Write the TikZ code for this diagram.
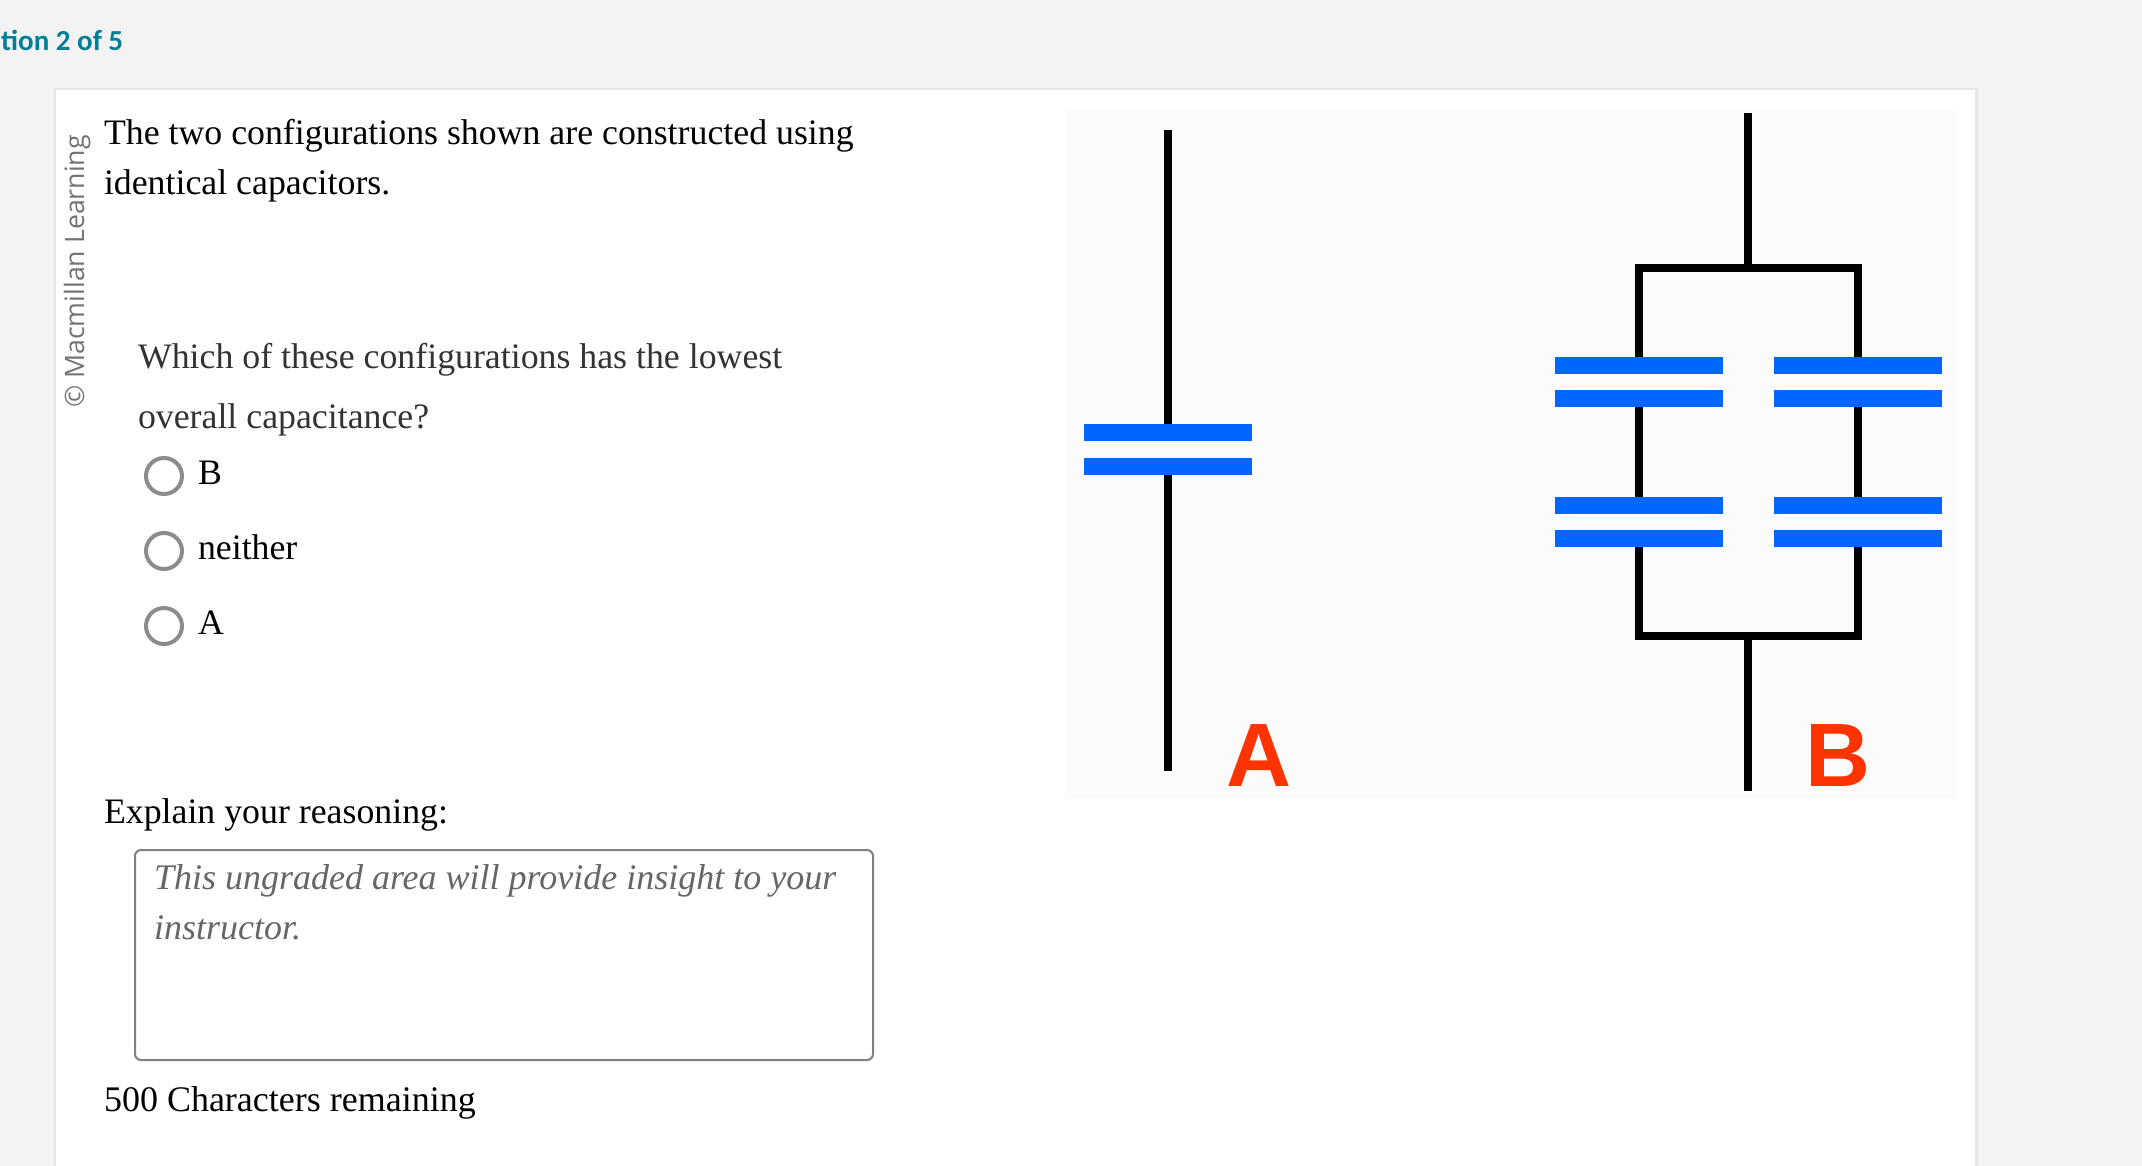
\documentclass[tikz,border=0pt]{standalone}
\usepackage{fontspec}
\setmainfont{Liberation Serif}
\newfontfamily\uifont{Carlito}
\newfontfamily\wmfont{Open Sans}
\newfontfamily\labfont{Liberation Sans}
\definecolor{pagebg}{HTML}{F3F3F3}
\definecolor{cardedge}{HTML}{E6E6E6}
\definecolor{panelbg}{HTML}{FBFBFB}
\definecolor{capblue}{HTML}{0066FF}
\definecolor{labred}{HTML}{FF3300}
\definecolor{teal}{HTML}{007F97}
\tikzset{
  x=1pt,y=-1pt,
  body/.style={anchor=base west,inner sep=0pt,outer sep=0pt,font=\fontsize{35.8}{36}\selectfont},
  plate/.style={draw=none,fill=capblue,minimum width=168pt,minimum height=17.5pt,inner sep=0pt,outer sep=0pt},
  wire/.style={draw=black,line width=7.5pt},
  busbar/.style={draw=black,line width=8pt,line cap=butt,line join=miter},
  radio/.style={circle,draw=black!45,line width=4pt,minimum size=36pt,inner sep=0pt,fill=white},
  capletter/.style={anchor=base,inner sep=0pt,text=labred,font=\labfont\bfseries\fontsize{90}{90}\selectfont},
}
\begin{document}
\begin{tikzpicture}
\useasboundingbox (0,0) rectangle (2142,1166);
\fill[pagebg] (0,0) rectangle (2142,1166);
\fill[cardedge] (54,88) rectangle (1978,1166);
\fill[white] (56,90) rectangle (1975,1166);
\fill[panelbg] (1065,110) rectangle (1956,799);

\node[anchor=base west,inner sep=0pt,text=teal,font=\uifont\bfseries\fontsize{29}{29}\selectfont] (qnum) at (1,51) {tion 2 of 5};
\node[anchor=base west,rotate=90,inner sep=0pt,text=black!55,font=\wmfont\fontsize{26.7}{26.7}\selectfont] (wm) at (84,408) {© Macmillan Learning};

\node[body] (t1) at (104,145) {The two configurations shown are constructed using};
\node[body] (t2) at (104,195) {identical capacitors.};
\node[body,text=black!80] (q1) at (138,368) {Which of these configurations has the lowest};
\node[body,text=black!80] (q2) at (138,428) {overall capacitance?};

\node[radio] (r1) at (164,476) {};
\node[radio] (r2) at (164,551) {};
\node[radio] (r3) at (164,626) {};
\node[body] (o1) at (198,484) {B};
\node[body] (o2) at (198,559) {neither};
\node[body] (o3) at (198,634) {A};

\node[body] (ex) at (104,823) {Explain your reasoning:};
\node[draw=black!50,line width=2pt,rounded corners=6pt,minimum width=738pt,minimum height=210pt,inner sep=0pt,outer sep=0pt,anchor=north west] (box) at (135,850) {};
\node[body,text=black!60,font=\itshape\fontsize{36}{36}\selectfont] (ph1) at (154,889) {This ungraded area will provide insight to your};
\node[body,text=black!60,font=\itshape\fontsize{36}{36}\selectfont] (ph2) at (154,939) {instructor.};
\node[body,font=\fontsize{36}{36}\selectfont] (rem) at (104,1111) {500 Characters remaining};

% circuit A
\coordinate (atop) at (1168,130);
\coordinate (abot) at (1168,771);
\node[plate] (a1) at (1168,432.5) {};
\node[plate] (a2) at (1168,466.5) {};
\draw[wire] (atop) -- (a1.north);
\draw[wire] (a2.south) -- (abot);

% circuit B
\coordinate (btop) at (1748,113);
\coordinate (bbot) at (1748,791);
\coordinate (tl) at (1639,268);
\coordinate (tr) at (1858,268);
\coordinate (bl) at (1639,636);
\coordinate (br) at (1858,636);
\coordinate (tm) at (1748,268);
\coordinate (bm) at (1748,636);
\node[plate] (l1) at (1639,365.5) {};
\node[plate] (l2) at (1639,398.5) {};
\node[plate] (l3) at (1639,505.5) {};
\node[plate] (l4) at (1639,538.5) {};
\node[plate] (r1p) at (1858,365.5) {};
\node[plate] (r2p) at (1858,398.5) {};
\node[plate] (r3p) at (1858,505.5) {};
\node[plate] (r4p) at (1858,538.5) {};
\draw[wire] (btop) -- (tm);
\draw[wire] (bm) -- (bbot);
\draw[busbar] (l2.south) -- (l3.north);
\draw[busbar] (r2p.south) -- (r3p.north);
\draw[busbar] (l1.north) -- (tl) -- (tr) -- (r1p.north);
\draw[busbar] (l4.south) -- (bl) -- (br) -- (r4p.south);

\node[capletter] (la) at (1259,786) {A};
\node[capletter] (lb) at (1838,786) {B};
\end{tikzpicture}
\end{document}
